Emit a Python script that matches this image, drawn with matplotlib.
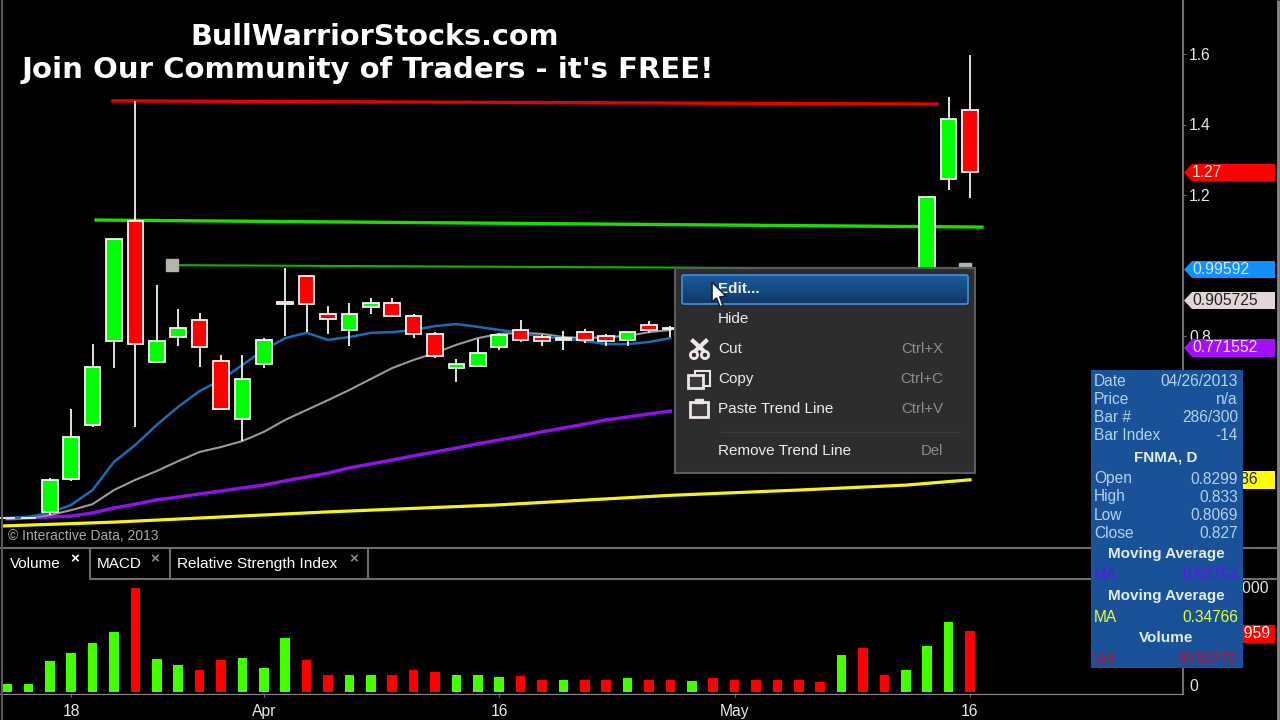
import matplotlib
matplotlib.use('Agg')
import matplotlib.pyplot as plt
import numpy as np
from matplotlib.patches import Rectangle, Polygon, FancyBboxPatch, Circle

plt.rcParams['font.family'] = ['Liberation Sans', 'DejaVu Sans']

# price candles, the ones hidden by the menu are left out
bar_idx = list(range(32)) + [43, 44, 45]
opens = [0.284, 0.284, 0.301, 0.394, 0.548, 0.786, 1.126, 0.726, 0.797, 0.845, 0.729, 0.565, 0.721, 0.896, 0.970, 0.862,
         0.817, 0.882, 0.894, 0.857, 0.806, 0.709, 0.715, 0.769, 0.817, 0.797, 0.789, 0.811, 0.800, 0.789, 0.831, 0.823,
         0.970, 1.245, 1.441]
highs = [0.284, 0.284, 0.397, 0.593, 0.777, 1.075, 1.467, 0.945, 0.877, 0.865, 0.746, 0.746, 0.794, 0.993, 0.970, 0.885,
         0.894, 0.908, 0.908, 0.862, 0.811, 0.735, 0.792, 0.809, 0.845, 0.803, 0.814, 0.820, 0.806, 0.811, 0.843, 0.828,
         1.194, 1.478, 1.597]
lows = [0.284, 0.284, 0.292, 0.389, 0.542, 0.709, 0.542, 0.723, 0.772, 0.712, 0.593, 0.502, 0.709, 0.800, 0.811, 0.806,
        0.772, 0.862, 0.854, 0.794, 0.738, 0.670, 0.712, 0.760, 0.783, 0.772, 0.760, 0.780, 0.772, 0.772, 0.809, 0.797,
        0.970, 1.214, 1.192]
closes = [0.284, 0.284, 0.392, 0.513, 0.712, 1.075, 0.777, 0.786, 0.823, 0.769, 0.593, 0.678, 0.789, 0.891, 0.891, 0.848,
          0.862, 0.894, 0.857, 0.806, 0.743, 0.721, 0.752, 0.803, 0.789, 0.786, 0.794, 0.789, 0.786, 0.811, 0.817, 0.820,
          1.194, 1.416, 1.265]

# moving averages up to the menu
ma_blue = [0.284, 0.287, 0.298, 0.321, 0.363, 0.443, 0.491, 0.548, 0.599, 0.644, 0.675, 0.718, 0.760, 0.794, 0.809, 0.789,
           0.797, 0.809, 0.811, 0.817, 0.828, 0.834, 0.826, 0.817, 0.809, 0.797, 0.794, 0.786, 0.777, 0.777, 0.783, 0.794]
ma_gray = [0.281, 0.284, 0.292, 0.306, 0.323, 0.363, 0.392, 0.417, 0.445, 0.471, 0.485, 0.502, 0.528, 0.562, 0.590, 0.618,
           0.647, 0.678, 0.709, 0.732, 0.752, 0.775, 0.794, 0.806, 0.809, 0.806, 0.797, 0.794, 0.797, 0.800, 0.811, 0.817]
ma_purple = [0.281, 0.284, 0.287, 0.289, 0.298, 0.312, 0.323, 0.335, 0.343, 0.352, 0.360, 0.369, 0.377, 0.389, 0.400, 0.411,
             0.426, 0.437, 0.448, 0.460, 0.471, 0.482, 0.494, 0.505, 0.516, 0.528, 0.539, 0.550, 0.562, 0.570, 0.579, 0.587]
yellow_idx = [-0.2, 5, 15, 23, 31, 37, 42, 45]
ma_yellow = [0.261, 0.272, 0.301, 0.321, 0.348, 0.363, 0.377, 0.392]

# trend lines: bar position and price at both ends
red_line_x, red_line_y = [4.95, 43.46], [1.467, 1.458]
green_line_x, green_line_y = [4.16, 45.56], [1.129, 1.109]
thin_line_x, thin_line_y = [7.71, 44.77], [1.001, 0.990]

# volume in millions, 1 = up day
volume = [17, 17, 63, 80, 101, 123, 215, 69, 56, 45, 66, 71, 50, 112, 66, 34, 36, 34, 34, 45, 41, 34, 34, 31,
          32, 24, 25, 24, 25, 28, 25, 25, 23, 28, 25, 24, 25, 24, 20, 77, 90, 34, 45, 95, 144, 126]
vol_up = [1, 1, 1, 1, 1, 1, 0, 1, 1, 0, 0, 1, 1, 1, 0, 0, 1, 1, 0, 0, 0, 1, 1, 1,
          0, 0, 1, 0, 0, 1, 0, 0, 1, 0, 0, 0, 0, 0, 0, 1, 0, 0, 1, 1, 1, 0]

date_ticks = [3, 12, 23, 34, 45]
date_labels = ['18', 'Apr', '16', 'May', '16']
# 1.0, 0.6 and 0.4 sit behind the tags and the data box
price_ticks = [1.6, 1.4, 1.2, 0.8]
vol_ticks = [0, 200]
vol_tick_labels = ['0', '200000000']

W, H = 1280, 720
AX_R = 1183
GRID = '#6e6e6e'
AXFONT = 11.3

fig = plt.figure(figsize=(12.8, 7.2), dpi=100, facecolor='black')

def axes_px(x0, y0, x1, y1):
    return fig.add_axes([x0 / W, 1 - y1 / H, (x1 - x0) / W, (y1 - y0) / H], facecolor='black')

xlim = (-7 / 21.4, (AX_R - 7) / 21.4)

# price panel
ax = axes_px(0, 0, AX_R, 548)
ax.set_xlim(xlim)
ax.set_ylim((618 - 548) / 352.5, 618 / 352.5)
ax.plot(yellow_idx, ma_yellow, color='#f2f21e', lw=2.3, zorder=2)
ax.plot(range(32), ma_purple, color='#8c14e6', lw=2.5, zorder=2)
ax.plot(range(32), ma_gray, color='#9a9a9a', lw=1.5, zorder=2)
ax.plot(range(32), ma_blue, color='#1a6db4', lw=1.8, zorder=2)
ax.plot(red_line_x, red_line_y, color='#e60000', lw=2.4, zorder=2)
ax.plot(green_line_x, green_line_y, color='#1fdc00', lw=2.4, zorder=2)
ax.plot(thin_line_x, thin_line_y, color='#12b400', lw=1.5, zorder=2)
ax.plot(thin_line_x, thin_line_y, ls='none', marker='s', ms=8, color='#b4b4a8', zorder=3)

opens_a, closes_a = np.array(opens), np.array(closes)
body_lo = np.minimum(opens_a, closes_a)
body_hi = np.maximum(opens_a, closes_a)
colors = ['#00ff00' if c > o else '#ff0000' for o, c in zip(opens, closes)]
ax.vlines(bar_idx, lows, highs, color='#f4f4f4', lw=1.3, zorder=4)
ax.bar(bar_idx, body_hi - body_lo, bottom=body_lo, width=0.72, color=colors, edgecolor='#f4f4f4', lw=1.3, zorder=5)

ax.yaxis.tick_right()
ax.set_yticks(price_ticks)
ax.set_yticklabels(['%.1f' % v for v in price_ticks])
ax.tick_params(axis='y', colors='#e8e8e8', length=2.5, width=0.8, pad=2, labelsize=AXFONT, color=GRID)
ax.set_xticks([])
for s in ['top', 'left', 'bottom']:
    ax.spines[s].set_visible(False)
ax.spines['right'].set_color(GRID)
ax.spines['right'].set_linewidth(1.5)

# volume panel
axv = axes_px(0, 579, AX_R, 694)
axv.set_xlim(xlim)
axv.set_ylim((692 - 694) * 2.06, (692 - 579) * 2.06)
vcolors = ['#44ff00' if u else '#ff0000' for u in vol_up]
axv.bar(range(46), volume, width=0.44, color=vcolors, zorder=3)
axv.set_yticks([])
# axis labels sit a few pixels above their value in this panel
for v, lab in zip(vol_ticks, vol_tick_labels):
    axv.annotate(lab, xy=(1, v), xycoords=axv.get_yaxis_transform(), xytext=(4.5, 4.3), textcoords='offset points',
                 color='#e8e8e8', fontsize=AXFONT, va='center', annotation_clip=False)
axv.set_xticks(date_ticks)
axv.set_xticklabels(date_labels)
axv.tick_params(axis='x', colors='#e8e8e8', length=2, width=0.8, pad=5, labelsize=AXFONT, color=GRID)
for s in ['top', 'left']:
    axv.spines[s].set_visible(False)
axv.spines['bottom'].set_color('#8c8c8c')
axv.spines['right'].set_color(GRID)
axv.spines['right'].set_linewidth(1.5)

# overlay in screen pixels for the window furniture
ui = fig.add_axes([0, 0, 1, 1], facecolor='none')
ui.set_xlim(0, W)
ui.set_ylim(H, 0)
ui.axis('off')

def hline(x0, x1, y, c=GRID, lw=1.5, z=1):
    ui.plot([x0, x1], [y, y], color=c, lw=lw, zorder=z, solid_capstyle='butt')

def vline(x, y0, y1, c=GRID, lw=1.5, z=1):
    ui.plot([x, x], [y0, y1], color=c, lw=lw, zorder=z, solid_capstyle='butt')

def txt(x, y, s, c='white', size=10.5, ha='left', z=12, **kw):
    return ui.text(x, y + 1, s, color=c, fontsize=size, ha=ha, va='center', zorder=z, **kw)

hline(0, 1277, 548)
hline(89, 1277, 579)
vline(2, 0, 720, c='#5a5a5a', lw=1.5)
vline(1277.5, 0, 720, c='#8a8a8a', lw=2)
vline(89.5, 549, 579)
vline(169.5, 549, 579)
vline(367.5, 549, 579)

txt(8, 535, '\u00a9 Interactive Data, 2013', c='#a8a8a8', size=10)
txt(10, 563, 'Volume', size=11)
txt(97, 563, 'MACD', size=11)
txt(177, 563, 'Relative Strength Index', size=11.1)
txt(75, 558, '\u00d7', size=11, ha='center', fontweight='bold')
txt(155, 558, '\u00d7', c='#8a8a8a', size=11, ha='center', fontweight='bold')
txt(354, 558, '\u00d7', c='#8a8a8a', size=11, ha='center', fontweight='bold')

# banner
txt(374.5, 36, 'BullWarriorStocks.com', size=20.7, ha='center', fontweight='bold', family='DejaVu Sans')
txt(368, 69, "Join Our Community of Traders - it's FREE!", size=21, ha='center', fontweight='bold', family='DejaVu Sans')

# price tags on the axis
def tag(y0, y1, s, fc, c='white'):
    ym = (y0 + y1) / 2
    ui.add_patch(Polygon([(1184, ym), (1192, y0), (1275, y0), (1275, y1), (1192, y1)], closed=True, fc=fc, ec='none', zorder=6))
    txt(1192, ym - 1, s, c=c, size=AXFONT, z=7)

tag(164, 181, '1.27', '#ff0000', c='#ffe0d0')
tag(261, 278, '0.99592', '#1290ff', c='#cfe8ff')
tag(292, 309, '0.905725', '#e2d6d6', c='#222222')
tag(339, 357, '0.771552', '#a010f8', c='#f4d8ff')
tag(471, 489, '0.347686', '#ffff00', c='#222222')
tag(625, 643, '125906959', '#ff0000')

# data box
ui.add_patch(Rectangle((1091, 370), 152, 298, fc='#1a5299', ec='none', zorder=8))
BOX = '#b4d2f2'
BOLD = '#e4eefa'
rows = [(380, 'Date', '04/26/2013'), (398, 'Price', 'n/a'), (417, 'Bar #', '286/300'), (435, 'Bar Index', '-14'),
        (478, 'Open', '0.8299'), (496, 'High', '0.833'), (514, 'Low', '0.8069'), (532, 'Close', '0.827')]
for y, a, b in rows:
    txt(1094, y, a, c=BOX, size=11.2, z=9)
    txt(1238, y, b, c=BOX, size=11.2, ha='right', z=9)
for y, s in [(456, 'FNMA, D'), (553, 'Moving Average'), (595, 'Moving Average'), (637, 'Volume')]:
    txt(1166, y, s, c=BOLD, size=11, ha='center', z=9, fontweight='bold')
txt(1094, 574, 'MA', c='#5a18e8', size=11.2, z=9)
txt(1238, 574, '0.58754', c='#5a18e8', size=11.2, ha='right', z=9)
txt(1094, 616, 'MA', c='#e6ff30', size=11.2, z=9)
txt(1238, 616, '0.34766', c='#e6ff30', size=11.2, ha='right', z=9)
txt(1094, 658, 'Vol', c='#b81438', size=11.2, z=9)
txt(1238, 658, '8150270', c='#b81438', size=11.2, ha='right', z=9)

# context menu
ui.add_patch(Rectangle((675, 268), 300, 205, fc='#2d2d2d', ec='#5c5c5c', lw=1.5, zorder=8))
grad = np.linspace(0, 1, 30)
grad_img = np.zeros((30, 1, 3))
grad_img[:, 0, 0] = (0x1c + (0x0e - 0x1c) * grad) / 255
grad_img[:, 0, 1] = (0x5c + (0x38 - 0x5c) * grad) / 255
grad_img[:, 0, 2] = (0x9c + (0x68 - 0x9c) * grad) / 255
ui.imshow(grad_img, extent=(682, 968, 304, 275), aspect='auto', zorder=9, interpolation='bilinear')
ui.set_xlim(0, W)
ui.set_ylim(H, 0)
ui.add_patch(FancyBboxPatch((682, 275), 286, 29, boxstyle='round,pad=0,rounding_size=2', fc='none', ec='#3f8ad2', lw=1.3, zorder=10))

menu_items = [(288, 'Edit...', '', 'bold'), (318, 'Hide', '', 'normal'), (348, 'Cut', 'Ctrl+X', 'normal'),
              (378, 'Copy', 'Ctrl+C', 'normal'), (408, 'Paste Trend Line', 'Ctrl+V', 'normal'),
              (450, 'Remove Trend Line', 'Del', 'normal')]
for y, a, b, w in menu_items:
    txt(718, y, a, c='#eeeeee', size=11, fontweight=w)
    if b:
        txt(943, y, b, c='#8e8e8e', size=10.7, ha='right')
hline(720, 960, 432, c='#3c3c3c', lw=1, z=9)

# menu icons
ICON = '#efe6e6'
ui.plot([693, 706], [341, 353], color=ICON, lw=3, zorder=10)
ui.plot([706, 693], [341, 353], color=ICON, lw=3, zorder=10)
ui.add_patch(Circle((694, 355), 3.6, fc='#2d2d2d', ec=ICON, lw=2, zorder=11))
ui.add_patch(Circle((705, 355), 3.6, fc='#2d2d2d', ec=ICON, lw=2, zorder=11))
ui.add_patch(Rectangle((695, 371), 15, 15, fc='#2d2d2d', ec=ICON, lw=1.5, zorder=9))
ui.add_patch(Rectangle((688, 375), 15, 13, fc='#3a3a3a', ec=ICON, lw=2, zorder=10))
ui.add_patch(Rectangle((690, 402), 18, 15, fc='#3a3a3a', ec=ICON, lw=2, zorder=9))
ui.add_patch(Rectangle((695, 399), 8, 4, fc=ICON, ec=ICON, lw=1, zorder=10))

# mouse pointer
ui.add_patch(Polygon([(712, 282), (712, 302), (716.5, 298), (720, 307), (723, 305.5), (720, 297), (726, 296)],
                     closed=True, fc='white', ec='#10233c', lw=1.2, zorder=13))

fig.savefig('out.png', dpi=100, facecolor='black')
